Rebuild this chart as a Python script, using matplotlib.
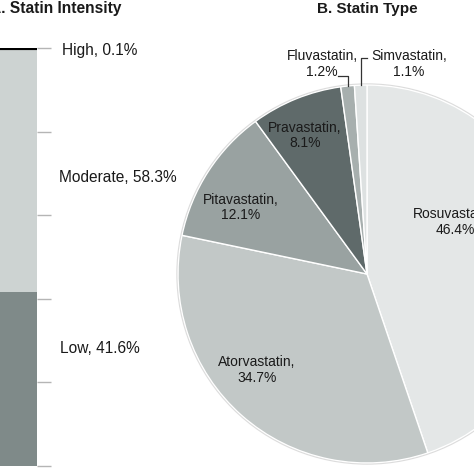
import matplotlib
matplotlib.use("Agg")
import matplotlib.pyplot as plt
import matplotlib.transforms as mtransforms
import numpy as np

plt.rcParams['font.family'] = ['Liberation Sans', 'DejaVu Sans']

# Panel A: statin intensity (stacked from bottom)
intensity_names = ["Low", "Moderate", "High"]
intensity_pct = [41.6, 58.3, 0.1]
intensity_colors = ["#7f8a89", "#cdd3d2", "#000000"]

# Panel B: statin type (clockwise from top)
type_names = ["Rosuvastatin", "Atorvastatin", "Pitavastatin", "Pravastatin", "Fluvastatin", "Simvastatin"]
type_pct = [46.4, 34.7, 12.1, 8.1, 1.2, 1.1]
type_colors = ["#e4e7e7", "#c2c8c7", "#99a2a1", "#5f6a6a", "#a7afae", "#dde1e1"]

W, H = 474, 474
fig = plt.figure(figsize=(W / 100, H / 100), dpi=100)


def px_box(left, top, width, height):
    return [left / W, (H - top - height) / H, width / W, height / H]


# ---- bar panel ----
ax1 = fig.add_axes(px_box(-40, 48, 77, 418))
bottom = 0.0
for name, val, col in zip(intensity_names, intensity_pct, intensity_colors):
    lw = 3 if name == "High" else 0
    ax1.bar(0, val, width=1.0, bottom=bottom, color=col, edgecolor=col, linewidth=lw)
    bottom += val
ax1.set_xlim(-0.5, 0.5)
ax1.set_ylim(0, 100)
ax1.set_yticks([0, 20, 40, 60, 80, 100])
ax1.yaxis.tick_right()
ax1.tick_params(axis='y', direction='out', length=10, width=1, color='#b5b5b5',
                labelright=False, labelleft=False)
ax1.set_xticks([])
for s in ax1.spines.values():
    s.set_visible(False)

label_y = [28.2, 69.1, 99.5]
label_x = [60, 59, 62]
tr = mtransforms.blended_transform_factory(fig.transFigure, ax1.transData)
for name, val, ly, lx in zip(intensity_names, intensity_pct, label_y, label_x):
    fig.text(lx / W, ly, f"{name}, {val}%", transform=tr, ha='left', va='center',
             fontsize=11.2, color='#1a1a1a')

fig.text(121 / W, (H - 12.5) / H, "A. Statin Intensity", ha='right', va='baseline',
         fontsize=11.2, fontweight='bold', color='#1a1a1a')

# ---- pie panel ----
cx, cy, r = 367, 274, 189
ax2 = fig.add_axes(px_box(cx - r, cy - r, 2 * r, 2 * r))
wedges, _ = ax2.pie(type_pct, colors=type_colors, startangle=90, counterclock=False,
                    radius=1.0, wedgeprops=dict(edgecolor='white', linewidth=1.0))
# faint outline around the pie
ax2.add_patch(plt.Circle((0, 0), 1.006, fill=False, edgecolor='#dcdcdc', lw=0.8, clip_on=False))
ax2.set_xlim(-1, 1)
ax2.set_ylim(-1, 1)
ax2.set_aspect('equal')
ax2.axis('off')

pie_label_pos = [(0.466, 0.275), (-0.582, -0.508), (-0.667, 0.354),
                 (-0.328, 0.735), (-0.238, 1.111), (0.222, 1.111)]
for name, val, (lx, ly) in zip(type_names, type_pct, pie_label_pos):
    ax2.text(lx, ly, f"{name},\n{val}%", ha='center', va='center', fontsize=10,
             linespacing=1.1, color='#1a1a1a', clip_on=False)

# leader lines for the two small slices
for w, (ly, lx_end) in zip(wedges[4:], [(1.048, -0.153), (1.143, 0.0)]):
    mid = np.deg2rad((w.theta1 + w.theta2) / 2)
    x0, y0 = np.cos(mid), np.sin(mid)
    ax2.plot([x0, x0, lx_end], [y0, ly, ly], color='#333333', lw=0.9, clip_on=False)

fig.text(cx / W, (H - 13.5) / H, "B. Statin Type", ha='center', va='baseline',
         fontsize=11, fontweight='bold', color='#1a1a1a')

fig.savefig("out.png", dpi=100)
